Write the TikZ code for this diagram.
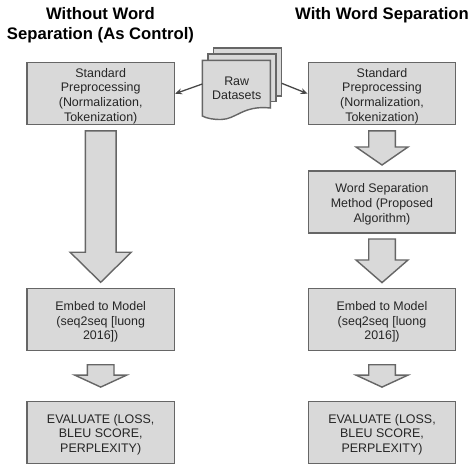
\documentclass[tikz,border=0pt]{standalone}
\usepackage{fontspec}
\setmainfont{Liberation Sans}
\usetikzlibrary{calc,arrows.meta}
\definecolor{boxgray}{HTML}{D9D9D9}
\definecolor{edgegray}{HTML}{666666}
\definecolor{inkgray}{HTML}{262626}
\tikzset{
  stagebox/.style={draw=edgegray,fill=boxgray,line width=1pt,minimum width=3.68cm,minimum height=1.55cm,
    align=center,text=inkgray,inner sep=0pt,font=\fontsize{8.85}{10.45}\selectfont},
  blockarrow/.style={draw=edgegray,fill=boxgray,line width=1pt,line join=miter},
  sheet/.style={draw=edgegray,fill=boxgray,line width=1pt},
  heading/.style={align=center,inner sep=0pt,font=\fontsize{11.85}{14.2}\selectfont\bfseries},
  feedarrow/.style={-{Stealth[length=5pt,width=4.2pt]},draw=inkgray!85,line width=0.9pt}
}
\newcommand{\firstline}{\rule{0pt}{9.6pt}}
% from, to, gap at top, gap at tip, head length, shaft half width, head half width
\newcommand{\blockdown}[7]{
\draw[blockarrow] ($(#1.south)+(-#6,#3)$)--($(#1.south)+(#6,#3)$)--($(#2.north)+(#6,-#4-#5)$)--($(#2.north)+(#7,-#4-#5)$)
  --($(#2.north)+(0,-#4)$)--($(#2.north)+(-#7,-#4-#5)$)--($(#2.north)+(-#6,-#4-#5)$)--cycle;
}
\begin{document}
\begin{tikzpicture}[x=0.025cm,y=-0.025cm]
\useasboundingbox (0,0) rectangle (474,474);
\fill[white] (0,0) rectangle (474,474);

\node[heading] (titleleft) at (100.5,25) {Without Word\\Separation (As Control)};
\node[heading] (titleright) at (382,15) {With Word Separation};

\node[stagebox] (prepleft) at (100.7,93.7) {\firstline Standard\\Preprocessing\\(Normalization,\\Tokenization)};
\node[stagebox] (embedleft) at (100.7,319.7) {\firstline Embed to Model\\(seq2seq [luong\\2016])};
\node[stagebox] (evalleft) at (100.7,432.5) {\firstline EVALUATE (LOSS,\\BLEU SCORE,\\PERPLEXITY)};

\node[stagebox] (prepright) at (382,93.7) {\firstline Standard\\Preprocessing\\(Normalization,\\Tokenization)};
\node[stagebox] (sepright) at (382,202) {\firstline Word Separation\\Method (Proposed\\Algorithm)};
\node[stagebox] (embedright) at (382,319.7) {\firstline Embed to Model\\(seq2seq [luong\\2016])};
\node[stagebox] (evalright) at (382,432.5) {\firstline EVALUATE (LOSS,\\BLEU SCORE,\\PERPLEXITY)};

\blockdown{prepleft}{embedleft}{5.5}{5.7}{30}{15.4}{30.5}
\blockdown{embedleft}{evalleft}{13.3}{13.7}{12}{13.3}{26}
\blockdown{prepright}{sepright}{5.5}{5.3}{18}{13.3}{26}
\blockdown{sepright}{embedright}{5.3}{5.4}{22.6}{13.3}{26}
\blockdown{embedright}{evalright}{13.3}{13.7}{12}{13.3}{26}

% stack of sheets
\draw[sheet] (213.3,48)--(281.7,48)--(281.7,96)--(213.3,96)--cycle;
\draw[sheet] (208,54)--(276,54)--(276,101.7)--(208,101.7)--cycle;
\draw[sheet] (202.3,60.3)--(270.3,60.3)--(270.3,108)
  .. controls (243,105) and (236,119.5) .. (221,119.5)
  .. controls (213,119.5) and (207,118.5) .. (202.3,116)--cycle;
\node[align=center,text=inkgray,inner sep=0pt,font=\fontsize{8.85}{9.6}\selectfont] (rawdata) at (236.7,88.5) {Raw\\Datasets};
\coordinate (stackleft) at (202.3,84);
\coordinate (stackright) at (281.7,83.3);

\draw[feedarrow] (stackleft)--(prepleft.east);
\draw[feedarrow] (stackright)--(prepright.west);
\end{tikzpicture}
\end{document}
